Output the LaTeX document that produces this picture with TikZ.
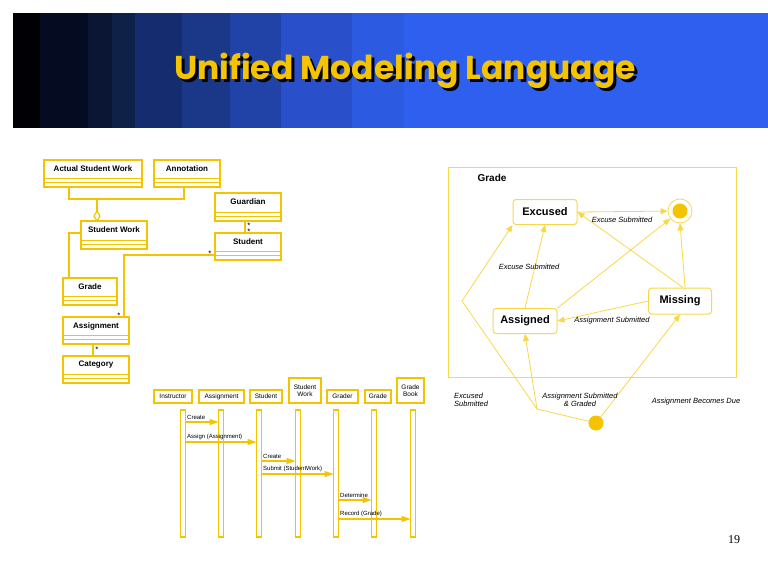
\documentclass[tikz,border=0pt]{standalone}
\usepackage{fontspec}
\setmainfont{Liberation Sans}
\newfontfamily\titlefont{Poppins}
\newfontfamily\seriffont{Liberation Serif}
\usetikzlibrary{arrows.meta}
\definecolor{uy}{HTML}{F5C400}
\definecolor{ly}{HTML}{F8D84A}
\begin{document}
\begin{tikzpicture}[x=1pt,y=-1pt,
  cls/.style={draw=uy,line width=1.6pt,fill=white},
  cname/.style={font=\bfseries\fontsize{8}{9}\selectfont},
  cl/.style={draw=uy,line width=1.2pt},
  star/.style={font=\fontsize{8}{8}\selectfont,inner sep=0},
  st/.style={draw=ly,line width=1pt,rounded corners=3pt,fill=white,font=\bfseries\fontsize{11}{12}\selectfont},
  tr/.style={draw=ly,line width=0.8pt,-{Triangle[width=6pt,length=7pt]}},
  tl/.style={font=\itshape\fontsize{7.5}{8}\selectfont},
  hd/.style={draw=uy,line width=1.3pt,fill=white,font=\fontsize{6.5}{7.5}\selectfont,align=center,inner sep=1pt},
  ll/.style={draw=uy,line width=1.3pt,fill=white},
  msg/.style={draw=uy,line width=1.2pt,-{Triangle[width=6pt,length=9pt]}},
  ml/.style={font=\fontsize{6}{7}\selectfont,anchor=south west,inner sep=1pt}]
\useasboundingbox (0,0) rectangle (768,576);
\fill[white] (0,0) rectangle (768,576);
% banner
\foreach \a/\b/\c in {13/40/000005,40/88/050C22,88/112/0A1633,112/135/102148,135/182/152D6E,182/230/1B3888,230/281/2143A8,281/352/2950CA,352/404/2C5AE0,404/768/2E5FEE}
  {\definecolor{bc}{HTML}{\c}\fill[bc] (\a,13) rectangle (\b,128);}
\node (shadow) [text=black,font=\titlefont\bfseries\fontsize{33}{36}\selectfont] at (408,74) {Unified Modeling Language};
\node (title) [text=uy,font=\titlefont\bfseries\fontsize{33}{36}\selectfont] at (405,71) {Unified Modeling Language};
% class diagram
\newcommand\clsbox[6]{% name,x1,y1,x2,y2,text
  \draw[cls] (#2,#3) rectangle (#4,#5);
  \node[cname] (#1) at ({(#2+#4)/2},{#3+9}) {#6};
  \draw[uy,line width=1pt] (#2,{#5-9}) -- (#4,{#5-9}) (#2,{#5-4.5}) -- (#4,{#5-4.5});}
\clsbox{asw}{44}{160}{142}{187}{Actual Student Work}
\clsbox{ann}{154}{160}{220}{187}{Annotation}
\clsbox{gua}{215}{193}{281}{221}{Guardian}
\clsbox{sw}{81}{221}{147}{249}{Student Work}
\clsbox{stu}{215}{233}{281}{260}{Student}
\clsbox{gr}{63}{278}{117}{305}{Grade}
\clsbox{asg}{63}{317}{129}{344}{Assignment}
\clsbox{cat}{63}{356}{129}{383}{Category}
\coordinate (j) at (97,199);
\draw[cl] (69,187) |- (j) -| (184,187);
\draw[cl] (j) -- (97,211);
\draw[cl,fill=white] (97,211) -- (100,216) -- (97,221) -- (94,216) -- cycle;
\draw[cl] (81,233) -- (69,233) -- (69,278);
\draw[cl] (245,221) -- (245,233);
\node[star] at (249,226) {*};
\node[star] at (249,232) {*};
\draw[cl] (215,255) -- (124,255) -- (124,317);
\node[star] at (210,254) {*};
\node[star] at (119,316) {*};
\draw[cl] (93,344) -- (93,356);
\node[star] at (97,350) {*};
% state diagram
\draw[ly,line width=0.8pt] (448,167) rectangle (736,377);
\node[font=\bfseries\fontsize{10}{11}\selectfont] at (492,178) {Grade};
\node[st,minimum width=64pt,minimum height=25pt] (exc) at (545,212) {Excused};
\node[st,minimum width=63pt,minimum height=26pt] (mis) at (680,301) {Missing};
\node[st,minimum width=64pt,minimum height=25pt] (asd) at (525,321) {Assigned};
\node[circle,draw=ly,line width=0.8pt,fill=white,minimum size=24pt,inner sep=0] (fin) at (680,211) {};
\fill[uy] (fin) circle (7.5);
\node[circle,fill=uy,minimum size=15pt,inner sep=0] (ini) at (596,423) {};
\coordinate (bend) at (537,409);
\coordinate (left) at (462,301);
\draw[tr] (exc.east) -- (fin);
\draw[tr] (mis.north) ++(3,0) -- (exc.east);
\draw[tr] (mis.north) ++(5,0) -- (fin.south);
\draw[tr] (asd.north) -- (exc.south);
\draw[tr] (asd.north east) -- (fin);
\draw[tr] (mis.west) -- (asd.east);
\draw[tr] (ini) -- (bend) -- (asd.south);
\draw[tr] (bend) -- (left) -- (exc.south west);
\draw[tr] (ini) -- (mis.south);
\node[tl] at (622,220) {Excuse Submitted};
\node[tl] at (529,267) {Excuse Submitted};
\node[tl] at (612,321) {Assignment Submitted};
\node[tl,align=left,anchor=west,inner sep=0] at (454,400) {Excused\\Submitted};
\node[tl,align=center] at (580,400) {Assignment Submitted\\\& Graded};
\node[tl] at (696,402) {Assignment Becomes Due};
% sequence diagram
\foreach \n/\x/\w/\t in {i/173/38/Instructor,a/221.5/45/Assignment,s/266/32/Student,g/342.5/31/Grader,d/378/26/Grade}{
  \node[hd,minimum width=\w pt,minimum height=13pt] (h\n) at (\x,396.5) {\t};
}
\node[hd,minimum width=32pt,minimum height=25pt] (hw) at (305,390.5) {Student\\Work};
\node[hd,minimum width=27pt,minimum height=25pt] (hb) at (410.5,390.5) {Grade\\Book};
\foreach \n/\x in {i/183,a/221,s/259,w/298,g/336,d/374,b/413}{
  \draw[ll] (\x-2.5,410) rectangle (\x+2.5,537);
}
\newcommand\seqmsg[4]{\draw[msg] (#1+2.5,#3) -- (#2-2.5,#3); \node[ml] at (#1+3,#3-1) {#4};}
\seqmsg{183}{221}{422}{Create}
\seqmsg{183}{259}{442}{Assign (Assignment)}
\seqmsg{259}{298}{461}{Create}
\seqmsg{259}{336}{474}{Submit (StudentWork)}
\seqmsg{336}{374}{500}{Determine}
\seqmsg{336}{413}{519}{Record (Grade)}
\node[font=\seriffont\fontsize{12}{12}\selectfont] at (734,540) {19};
\end{tikzpicture}
\end{document}
